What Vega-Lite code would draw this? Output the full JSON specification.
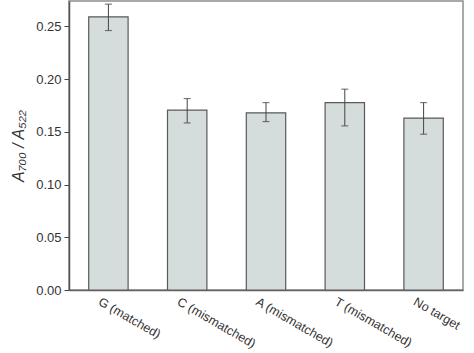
{
  "$schema": "https://vega.github.io/schema/vega-lite/v6.json",
  "autosize": "none",
  "width": 394,
  "height": 289,
  "padding": {"left": 69, "top": 1, "right": 11, "bottom": 63},
  "background": "white",
  "config": {
    "font": "Liberation Sans",
    "view": {"stroke": "#8a8f8f", "strokeWidth": 1.5}
  },
  "data": {
    "values": [
      {"group": "G (matched)", "value": 0.259, "lo": 0.246, "hi": 0.271},
      {"group": "C (mismatched)", "value": 0.1705, "lo": 0.1584, "hi": 0.1815},
      {"group": "A (mismatched)", "value": 0.168, "lo": 0.1597, "hi": 0.1777},
      {"group": "T (mismatched)", "value": 0.1777, "lo": 0.1556, "hi": 0.1904},
      {"group": "No target", "value": 0.163, "lo": 0.1477, "hi": 0.1777}
    ]
  },
  "encoding": {
    "x": {
      "field": "group",
      "type": "nominal",
      "sort": null,
      "scale": {"paddingInner": 0.5, "paddingOuter": 0.25},
      "axis": {
        "title": null,
        "labelAngle": 30,
        "labelAlign": "left",
        "labelBaseline": "top",
        "labelPadding": 5,
        "labelOffset": -6,
        "labelFontSize": 12.5,
        "labelColor": "#333333",
        "labelOverlap": false,
        "ticks": false,
        "domainColor": "#666666",
        "domainWidth": 1.5
      }
    }
  },
  "layer": [
    {
      "mark": {"type": "bar", "fill": "#d5dcdc", "stroke": "#5a5a5a", "strokeWidth": 1.2},
      "encoding": {
        "y": {
          "field": "value",
          "type": "quantitative",
          "scale": {"domain": [0, 0.274], "nice": false, "zero": true},
          "axis": {
            "title": "A₇₀₀ / A₅₂₂",
            "titleFontSize": 16,
            "titleFontWeight": "normal",
            "titleFontStyle": "italic",
            "titleColor": "#333333",
            "titlePadding": 9,
            "values": [0, 0.025, 0.05, 0.075, 0.1, 0.125, 0.15, 0.175, 0.2, 0.225, 0.25],
            "labelExpr": "round(datum.value*1000) % 50 == 0 ? format(datum.value, '.2f') : ''",
            "labelFontSize": 13,
            "labelColor": "#333333",
            "labelPadding": 3,
            "grid": false,
            "tickColor": "#444444",
            "tickSize": {"condition": {"test": "round(datum.value*1000) % 50 != 0", "value": 2.5}, "value": 5},
            "domainColor": "#555555",
            "domainWidth": 1.5
          }
        }
      }
    },
    {
      "mark": {"type": "rule", "color": "#444444", "strokeWidth": 1},
      "encoding": {
        "y": {"field": "lo", "type": "quantitative"},
        "y2": {"field": "hi"}
      }
    },
    {
      "mark": {"type": "tick", "color": "#444444", "size": 7, "thickness": 1.2},
      "encoding": {"y": {"field": "hi", "type": "quantitative"}}
    },
    {
      "mark": {"type": "tick", "color": "#444444", "size": 7, "thickness": 1.2},
      "encoding": {"y": {"field": "lo", "type": "quantitative"}}
    }
  ]
}
